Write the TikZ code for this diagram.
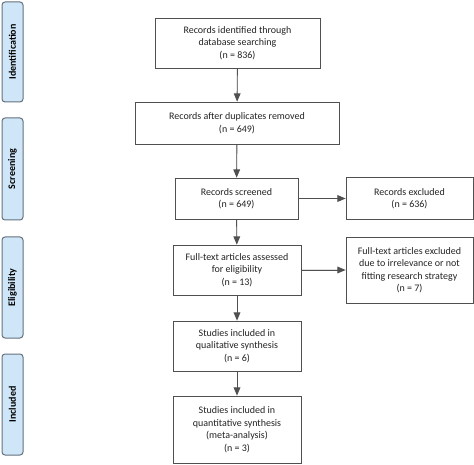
\documentclass[tikz,border=0pt]{standalone}
\usepackage{fontspec}
\setmainfont{Carlito}
\usepackage{tikz}
\usetikzlibrary{arrows,positioning}
\definecolor{barblue}{RGB}{207,230,248}
\definecolor{bargray}{RGB}{100,112,124}
\definecolor{boxgray}{RGB}{80,80,80}
\definecolor{inkgray}{RGB}{35,35,35}

\begin{document}
\begin{tikzpicture}[x=1pt,y=1pt]
    \tikzstyle{stage}=[rectangle,rounded corners=3pt,draw=bargray,line width=1pt,%
    fill=barblue,minimum height=21pt,inner sep=0pt,rotate=90,text=black,%
    font=\fontsize{10}{11}\selectfont\bfseries] %
    \tikzstyle{rec}=[rectangle,draw=boxgray,line width=0.8pt,align=center,%
    text=inkgray,inner sep=2pt,font=\fontsize{10}{12.5}\selectfont] %
    \tikzstyle{flow}=[-triangle 45,draw=boxgray,fill=black,line width=0.9pt] %

    \useasboundingbox (0,0) rectangle (474,-465);

    %% stages
    \node[stage,minimum width=100pt] (IDENT) at (12.5, -52) {Identification};
    \node[stage,minimum width=102pt] (SCREEN) at (12.5, -169) {Screening};
    \node[stage,minimum width=101pt] (ELIG) at (12.5, -287.5) {Eligibility};
    \node[stage,minimum width=101pt] (INCL) at (12.5, -404.5) {Included};

    %% main column
    \node[rec,minimum width=165pt,minimum height=50pt] (FOUND) at (237.5, -43)
        {Records identified through\\database searching\\(n = 836)};
    \node[rec,minimum width=204pt,minimum height=42pt] (DEDUP) at (237, -123)
        {Records after duplicates removed\\(n = 649)};
    \node[rec,minimum width=123pt,minimum height=41pt] (SCRN) at (236.5, -198.5)
        {Records screened\\(n = 649)};
    \node[rec,minimum width=128pt,minimum height=50pt] (FULL) at (237, -270)
        {Full-text articles assessed\\for eligibility\\(n = 13)};
    \node[rec,minimum width=128pt,minimum height=50pt] (QUAL) at (237, -346)
        {Studies included in\\qualitative synthesis\\(n = 6)};
    \node[rec,minimum width=128pt,minimum height=67pt] (QUANT) at (237, -429.5)
        {Studies included in\\quantitative synthesis\\(meta-analysis)\\(n = 3)};

    %% exclusions
    \node[rec,minimum width=127pt,minimum height=42pt] (EXCL) at (409.5, -198.5)
        {Records excluded\\(n = 636)};
    \node[rec,minimum width=127pt,minimum height=66pt] (FULLEX) at (409.5, -270)
        {Full-text articles excluded\\due to irrelevance or not\\fitting research strategy\\(n = 7)};

    \draw [flow] (FOUND) -- (DEDUP);
    \draw [flow] (DEDUP) -- (SCRN);
    \draw [flow] (SCRN) -- (FULL);
    \draw [flow] (FULL) -- (QUAL);
    \draw [flow] (QUAL) -- (QUANT);
    \draw [flow] (SCRN.east) -- (EXCL.west);
    \draw [flow] (FULL.east) -- (FULLEX.west);
  \end{tikzpicture}
\end{document}
